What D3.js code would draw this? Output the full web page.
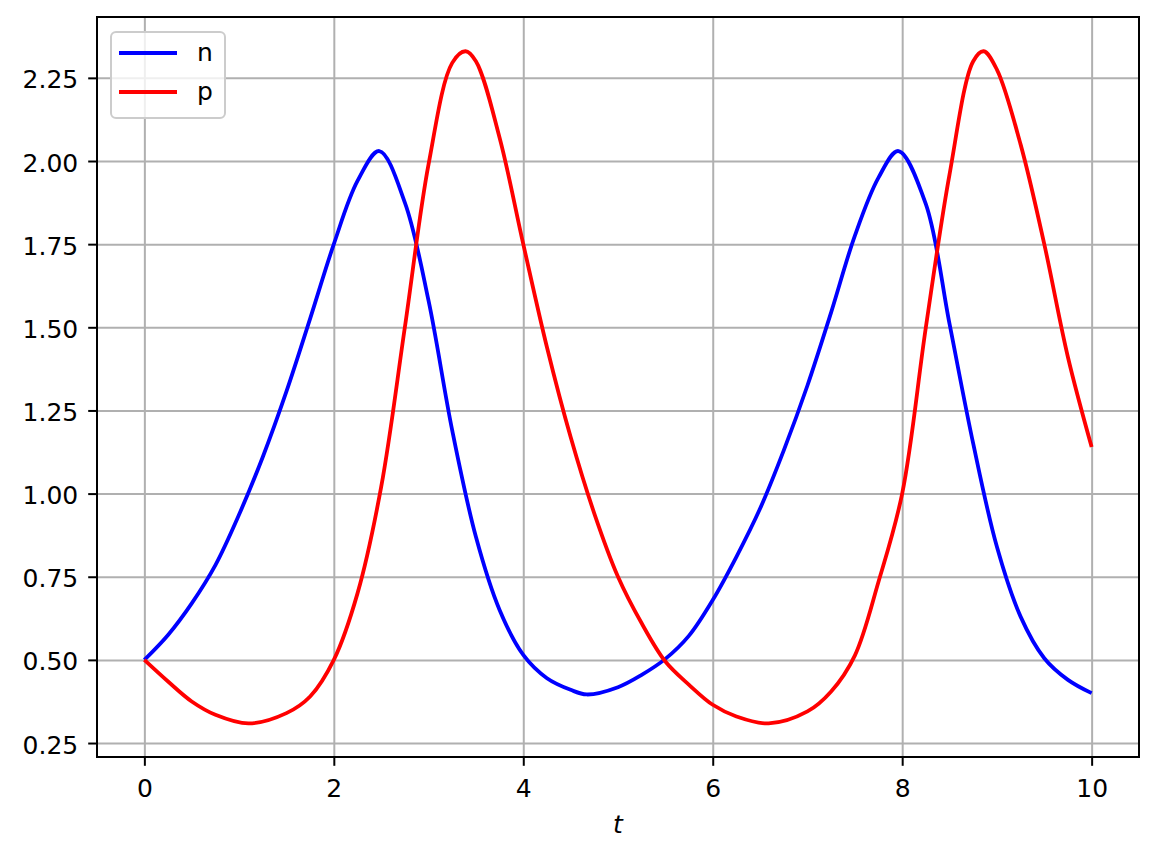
<!DOCTYPE html>
<html>
<head>
<meta charset="utf-8">
<script src="https://cdn.jsdelivr.net/npm/d3@7"></script>
<style>
  body { margin: 0; background: #fff; }
  svg { display: block; }
  text { font-family: "DejaVu Sans", sans-serif; }
</style>
</head>
<body>
<svg id="chart" width="1158" height="858"></svg>
<script>
// values
var tN = [0, 0.25, 0.5, 0.75, 1, 1.25, 1.5, 1.75, 2, 2.25, 2.48, 2.75, 3, 3.25, 3.5, 3.75, 4, 4.25, 4.5, 4.67, 5, 5.25, 5.5, 5.75, 6, 6.25, 6.5, 6.75, 7, 7.25, 7.5, 7.75, 7.96, 8.25, 8.5, 8.75, 9, 9.25, 9.5, 9.75, 10];
var nVals = [0.50, 0.575, 0.67, 0.785, 0.937, 1.11, 1.307, 1.526, 1.75, 1.94, 2.03, 1.875, 1.58, 1.19, 0.87, 0.65, 0.515, 0.445, 0.41, 0.396, 0.418, 0.455, 0.503, 0.573, 0.68, 0.81, 0.955, 1.13, 1.325, 1.545, 1.775, 1.95, 2.03, 1.87, 1.51, 1.15, 0.84, 0.63, 0.505, 0.44, 0.40];

var tP = [0, 0.25, 0.5, 0.75, 1.1, 1.5, 1.75, 2, 2.25, 2.5, 2.75, 3, 3.25, 3.39, 3.5, 3.75, 4, 4.25, 4.5, 4.75, 5, 5.25, 5.5, 5.75, 6, 6.25, 6.59, 7, 7.25, 7.5, 7.75, 8, 8.25, 8.5, 8.75, 8.86, 9, 9.25, 9.5, 9.75, 10];
var pVals = [0.50, 0.435, 0.375, 0.335, 0.309, 0.34, 0.39, 0.50, 0.70, 1.02, 1.50, 1.99, 2.295, 2.33, 2.30, 2.07, 1.75, 1.44, 1.17, 0.94, 0.75, 0.61, 0.495, 0.425, 0.365, 0.33, 0.309, 0.345, 0.405, 0.513, 0.735, 1.00, 1.50, 1.96, 2.30, 2.33, 2.275, 2.05, 1.75, 1.41, 1.14];

var xTicks = [0, 2, 4, 6, 8, 10];
var yTicks = [0.25, 0.5, 0.75, 1.0, 1.25, 1.5, 1.75, 2.0, 2.25];

var series = [
    { name: "n", color: "#0000ff", t: tN, v: nVals },
    { name: "p", color: "#ff0000", t: tP, v: pVals }
];

var margin = { left: 97, top: 17, right: 19, bottom: 101 };
var svg = d3.select("#chart");
var W = +svg.attr("width") - margin.left - margin.right;
var H = +svg.attr("height") - margin.top - margin.bottom;

var x = d3.scaleLinear().domain([-0.5, 10.5]).range([0, W]);
var y = d3.scaleLinear().domain([0.208, 2.433]).range([H, 0]);

var g = svg.append("g").attr("transform", "translate(" + margin.left + "," + margin.top + ")");

// grid
g.append("g")
    .attr("transform", "translate(0," + H + ")")
    .call(d3.axisBottom(x).tickValues(xTicks).tickSize(-H).tickFormat(""))
    .call(function (s) { s.select(".domain").remove(); })
    .selectAll("line").attr("stroke", "#b0b0b0").attr("stroke-width", 2);
g.append("g")
    .call(d3.axisLeft(y).tickValues(yTicks).tickSize(-W).tickFormat(""))
    .call(function (s) { s.select(".domain").remove(); })
    .selectAll("line").attr("stroke", "#b0b0b0").attr("stroke-width", 2);

// lines
var line = d3.line()
    .x(function (d) { return x(d[0]); })
    .y(function (d) { return y(d[1]); })
    .curve(d3.curveCatmullRom.alpha(0.5));

series.forEach(function (s) {
    g.append("path")
        .datum(d3.zip(s.t, s.v))
        .attr("fill", "none")
        .attr("stroke", s.color)
        .attr("stroke-width", 3.8)
        .attr("stroke-linejoin", "round")
        .attr("d", line);
});

// axes
var xAxis = g.append("g")
    .attr("transform", "translate(0," + H + ")")
    .call(d3.axisBottom(x).tickValues(xTicks).tickSize(8.8).tickPadding(13).tickFormat(d3.format("d")));
var yAxis = g.append("g")
    .call(d3.axisLeft(y).tickValues(yTicks).tickSize(8.8).tickPadding(10).tickFormat(d3.format(".2f")));

[xAxis, yAxis].forEach(function (a) {
    a.select(".domain").remove();
    a.selectAll("line").attr("stroke", "#000").attr("stroke-width", 2);
    a.selectAll("text").attr("font-size", 25).attr("fill", "#000")
        .style("font-family", "'DejaVu Sans', sans-serif");
});
yAxis.selectAll("text").attr("dy", "0.4em");

// frame
g.append("rect")
    .attr("width", W).attr("height", H)
    .attr("fill", "none").attr("stroke", "#000").attr("stroke-width", 2);

// x label
g.append("text")
    .attr("x", W / 2).attr("y", H + 76)
    .attr("text-anchor", "middle")
    .attr("font-size", 25)
    .attr("font-style", "italic")
    .text("t");

// legend
var legend = g.append("g").attr("transform", "translate(14,15)");
legend.append("rect")
    .attr("width", 114).attr("height", 86).attr("rx", 5)
    .attr("fill", "#fff").attr("fill-opacity", 0.8)
    .attr("stroke", "#cccccc").attr("stroke-width", 2);

series.forEach(function (s, i) {
    var row = legend.append("g").attr("transform", "translate(0," + (21 + i * 39) + ")");
    row.append("line")
        .attr("x1", 8).attr("x2", 66)
        .attr("stroke", s.color).attr("stroke-width", 3.8);
    row.append("text")
        .attr("x", 86).attr("dy", "0.32em")
        .attr("font-size", 25)
        .text(s.name);
});
</script>
</body>
</html>
